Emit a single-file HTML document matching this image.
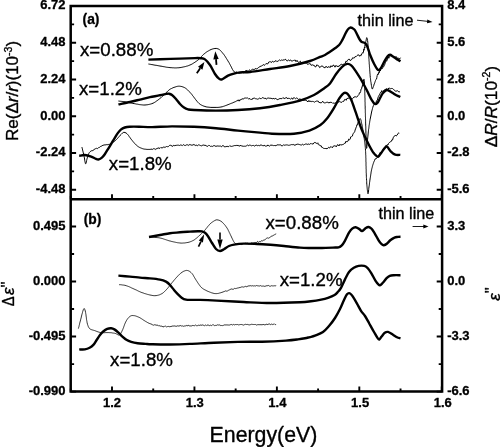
<!DOCTYPE html>
<html><head><meta charset="utf-8"><title>Figure</title>
<style>html,body{margin:0;padding:0;background:#fff}svg{display:block}</style></head>
<body><svg width="500" height="447" viewBox="0 0 500 447"><rect x="0" y="0" width="500" height="447" fill="#fff"/>
<g fill="none" stroke="#000" stroke-linejoin="round" stroke-linecap="butt">
<g stroke-width="1.0">
<path d="M148.4,64.0 L148.9,64.1 L149.6,64.2 L150.3,64.3 L151.2,64.5 L152.1,64.6 L153.1,64.8 L154.1,65.0 L155.1,65.2 L156.2,65.3 L157.2,65.5 L158.2,65.7 L159.1,65.9 L160.0,66.0 L161.0,66.2 L161.9,66.3 L162.8,66.5 L163.8,66.7 L164.7,66.8 L165.5,67.0 L166.4,67.2 L167.3,67.3 L168.2,67.4 L169.1,67.5 L170.0,67.6 L170.9,67.7 L171.8,67.7 L172.7,67.8 L173.6,67.8 L174.5,67.9 L175.5,67.9 L176.4,67.9 L177.3,67.8 L178.2,67.8 L179.1,67.7 L180.0,67.6 L180.9,67.5 L181.8,67.3 L182.8,67.1 L183.7,66.9 L184.7,66.7 L185.6,66.5 L186.5,66.2 L187.4,66.0 L188.3,65.7 L189.2,65.3 L190.0,65.0 L190.9,64.6 L191.8,64.2 L192.6,63.7 L193.4,63.2 L194.2,62.7 L195.0,62.2 L195.8,61.6 L196.6,61.1 L197.3,60.6 L198.0,60.0 L198.8,59.4 L199.5,58.7 L200.1,58.0 L200.8,57.3 L201.4,56.6 L202.1,55.9 L202.7,55.2 L203.3,54.6 L204.0,54.0 L204.8,53.4 L205.5,52.8 L206.3,52.2 L207.1,51.7 L207.8,51.2 L208.6,50.8 L209.3,50.4 L210.0,50.0 L211.1,49.5 L212.2,49.1 L213.2,48.8 L214.1,48.6 L215.0,48.5 L216.2,48.4 L217.1,48.6 L218.0,48.9 L218.8,49.2 L219.6,49.7 L220.5,50.6 L221.0,51.1 L221.5,51.7 L222.1,52.4 L222.7,53.1 L223.3,53.9 L224.0,54.7 L224.6,55.6 L225.1,56.3 L225.5,57.0 L226.0,57.8 L226.5,58.6 L227.0,59.4 L227.5,60.2 L228.0,61.0 L228.5,61.9 L229.0,62.6 L229.4,63.4 L229.9,64.3 L230.4,65.3 L230.9,66.2 L231.4,67.2 L231.8,68.0 L232.2,68.9 L232.6,69.6 L233.0,70.2 L233.7,71.3 L234.2,71.8 L235.0,72.2 L235.8,72.4 L236.6,72.0 L237.6,72.8 L238.8,73.3 L240.0,73.1 L240.8,73.0 L241.6,73.0 L242.4,71.8 L243.3,72.7 L244.3,72.2 L245.2,70.9 L246.2,70.6 L247.1,70.3 L248.0,71.5 L248.9,70.4 L249.7,69.9 L250.6,70.7 L251.4,70.0 L252.3,69.3 L253.2,69.3 L254.1,69.7 L255.0,68.8 L256.0,68.6 L256.8,69.1 L257.6,68.2 L258.4,67.6 L259.2,67.4 L260.0,66.2 L260.9,66.4 L261.7,66.0 L262.6,65.1 L263.5,64.5 L264.3,65.5 L265.2,64.4 L266.0,63.5 L266.9,63.8 L267.8,63.9 L268.7,62.1 L269.6,61.8 L270.5,61.8 L271.5,62.5 L272.4,61.2 L273.3,62.0 L274.2,61.7 L275.1,61.3 L276.0,60.5 L276.9,61.7 L277.8,61.2 L278.7,60.6 L279.6,59.9 L280.5,60.6 L281.5,60.0 L282.4,60.3 L283.3,59.8 L284.2,60.3 L285.1,59.2 L286.0,59.6 L286.9,60.9 L287.8,60.7 L288.8,59.8 L289.7,60.8 L290.7,59.9 L291.6,61.2 L292.5,60.9 L293.4,60.5 L294.3,60.3 L295.2,60.0 L296.0,61.7 L297.0,60.3 L297.9,61.9 L298.7,62.4 L299.6,61.9 L300.4,61.2 L301.3,63.2 L302.1,63.7 L303.0,63.3 L304.0,63.0 L304.8,62.9 L305.7,63.1 L306.6,62.9 L307.5,64.4 L308.4,64.1 L309.3,63.7 L310.3,63.7 L311.2,65.4 L312.2,64.7 L313.1,65.4 L314.0,65.1 L314.9,66.7 L315.8,66.9 L316.8,64.8 L317.7,65.4 L318.7,65.8 L319.6,67.6 L320.5,67.1 L321.4,66.0 L322.3,65.8 L323.2,67.0 L324.0,67.5 L325.1,67.8 L326.1,66.2 L327.1,67.6 L328.1,67.1 L329.1,66.5 L330.0,67.7 L331.0,65.7 L332.0,66.9 L333.0,65.2 L334.0,65.3 L335.0,67.2 L336.0,65.3 L337.0,66.6 L338.0,66.1 L339.0,66.5 L340.0,65.0 L340.8,64.6 L341.7,64.1 L342.5,65.1 L343.4,64.0 L344.2,64.4 L345.1,63.7 L345.9,61.2 L346.7,61.8 L347.5,60.2 L348.2,59.6 L349.2,59.1 L350.1,60.6 L351.0,59.9 L351.8,59.5 L352.7,57.7 L353.5,58.0 L354.4,57.9 L355.2,56.5 L356.1,56.7 L357.1,55.5 L358.0,54.8 L358.9,55.0 L359.7,56.3 L360.5,55.1 L361.1,55.6 L361.9,53.7 L362.5,52.6 L363.0,53.2 L363.4,52.4 L363.8,49.2 L364.1,50.2 L364.3,47.9 L364.6,47.0 L364.8,48.0 L365.0,44.8 L365.2,44.3 L365.4,45.3 L365.6,43.0 L365.8,41.4 L366.0,41.1 L366.2,39.8 L366.4,38.7 L366.5,37.9 L366.7,37.6 L366.9,37.8 L367.1,38.3 L367.4,39.2 L367.6,40.6 L367.8,42.4 L367.9,43.0 L367.9,43.7 L368.0,44.4 L368.0,45.2 L368.1,46.0 L368.2,46.9 L368.2,47.8 L368.3,48.8 L368.3,49.7 L368.4,50.7 L368.5,51.7 L368.5,52.7 L368.6,53.7 L368.6,54.7 L368.7,55.7 L368.8,56.7 L368.8,57.7 L368.9,58.6 L369.0,59.5 L369.0,60.4 L369.1,61.4 L369.2,62.3 L369.2,63.3 L369.3,64.3 L369.4,65.3 L369.4,66.3 L369.5,67.3 L369.6,68.3 L369.7,69.3 L369.7,70.2 L369.8,71.2 L369.9,72.1 L369.9,72.9 L370.0,73.8 L370.1,74.6 L370.1,75.3 L370.2,76.0 L370.3,77.5 L370.5,78.7 L370.6,79.8 L370.7,80.8 L370.8,81.6 L371.0,82.4 L371.1,83.2 L371.2,84.0 L371.4,85.3 L371.6,86.6 L371.8,87.7 L372.0,88.5 L372.2,89.0 L372.6,88.8 L372.9,87.8 L373.4,86.5 L373.7,85.8 L373.9,85.0 L374.2,84.1 L374.6,83.2 L374.9,82.3 L375.2,81.4 L375.5,80.5 L375.8,79.6 L376.1,79.4 L376.5,79.1 L376.8,77.7 L377.2,75.5 L377.6,74.1 L378.0,74.2 L378.4,74.4 L378.9,71.9 L379.4,72.5 L379.9,69.7 L380.4,70.9 L381.0,67.8 L381.6,67.8 L382.2,68.6 L382.8,67.6 L383.4,67.1 L383.9,66.2 L384.4,65.1 L384.9,64.2 L385.3,62.0 L385.7,61.9 L386.2,60.5 L386.6,61.2 L387.1,60.1 L387.7,58.1 L388.3,56.8 L388.8,58.3 L389.3,57.3 L390.4,55.5 L391.5,55.1 L392.1,56.2 L392.7,55.8 L393.4,56.4 L394.4,56.9 L395.3,57.0 L396.4,56.7 L397.6,58.6 L398.8,58.2 L399.8,58.8 L400.5,57.7"/>
<path d="M118.4,101.0 L119.0,101.1 L119.8,101.2 L120.7,101.3 L121.7,101.4 L122.8,101.5 L123.9,101.7 L125.0,101.8 L126.0,102.0 L126.9,102.2 L127.7,102.3 L128.6,102.5 L129.4,102.7 L130.3,102.9 L131.2,103.1 L132.1,103.2 L133.0,103.4 L134.0,103.6 L134.8,103.7 L135.7,103.9 L136.6,104.1 L137.6,104.2 L138.5,104.4 L139.5,104.6 L140.4,104.7 L141.4,104.8 L142.3,104.9 L143.2,105.0 L144.0,105.0 L145.0,105.0 L146.0,104.9 L146.9,104.8 L147.8,104.7 L148.7,104.5 L149.6,104.3 L150.4,104.1 L151.2,103.9 L152.0,103.6 L153.0,103.2 L153.9,102.8 L154.7,102.3 L155.5,101.8 L156.3,101.2 L157.2,100.6 L158.0,100.0 L158.8,99.4 L159.5,98.8 L160.3,98.2 L161.1,97.6 L161.8,96.9 L162.6,96.3 L163.3,95.6 L164.0,95.0 L164.8,94.3 L165.5,93.5 L166.2,92.7 L166.9,92.0 L167.6,91.3 L168.3,90.6 L169.0,90.0 L169.8,89.4 L170.6,88.9 L171.5,88.5 L172.3,88.1 L173.1,87.7 L174.0,87.4 L174.9,87.1 L175.8,86.8 L176.7,86.5 L177.6,86.3 L178.5,86.2 L179.5,86.2 L180.3,86.3 L181.2,86.4 L182.1,86.7 L182.9,86.9 L183.8,87.3 L184.7,87.7 L185.5,88.2 L186.2,88.7 L186.9,89.3 L187.6,89.9 L188.3,90.6 L189.0,91.3 L189.7,92.0 L190.3,92.8 L191.0,93.5 L191.6,94.2 L192.2,94.9 L192.7,95.7 L193.3,96.4 L193.9,97.2 L194.4,98.0 L195.0,98.7 L195.5,99.4 L196.0,100.0 L196.7,100.9 L197.3,101.6 L197.9,102.3 L198.6,103.0 L199.2,103.6 L200.0,104.2 L200.7,104.7 L201.5,105.1 L202.3,105.5 L203.2,105.9 L204.1,106.2 L205.0,106.5 L206.0,106.8 L206.9,107.0 L207.9,107.1 L208.9,107.2 L209.9,107.3 L210.9,107.4 L212.0,107.4 L213.0,107.4 L214.0,107.4 L215.0,107.4 L216.0,107.4 L216.9,107.4 L217.9,107.4 L218.9,107.3 L219.9,107.2 L220.9,107.0 L222.0,106.8 L222.8,106.6 L223.6,106.3 L224.5,106.0 L225.3,105.7 L226.2,105.4 L227.1,105.0 L228.0,104.7 L228.9,104.3 L229.7,104.0 L230.6,103.6 L231.4,103.3 L232.3,103.0 L233.1,102.6 L234.0,102.2 L234.8,101.9 L235.7,101.5 L236.5,101.0 L237.3,100.9 L238.2,99.8 L239.1,101.2 L240.0,99.5 L240.8,100.0 L241.6,99.4 L242.3,98.5 L243.0,99.4 L243.8,98.4 L244.6,98.1 L245.4,98.0 L246.4,98.1 L247.4,97.9 L248.6,98.9 L250.0,98.6 L250.7,99.5 L251.4,99.4 L252.2,99.5 L253.0,98.0 L253.8,98.4 L254.7,98.1 L255.5,98.7 L256.4,98.8 L257.4,99.2 L258.3,99.0 L259.3,98.1 L260.2,98.5 L261.2,98.7 L262.2,97.7 L263.2,97.8 L264.2,98.5 L265.2,98.0 L266.2,99.2 L267.2,98.3 L268.2,98.0 L269.2,98.2 L270.1,98.3 L271.1,98.2 L272.0,98.8 L272.9,98.7 L273.9,98.4 L274.8,99.0 L275.8,98.2 L276.8,99.5 L277.8,99.6 L278.8,99.1 L279.9,98.5 L280.9,98.6 L281.9,98.7 L282.9,97.6 L283.9,98.3 L284.9,98.5 L285.8,97.8 L286.8,97.6 L287.7,99.0 L288.6,98.1 L289.5,98.4 L290.3,99.2 L291.1,98.6 L291.9,97.9 L292.7,99.3 L293.4,98.1 L294.0,97.4 L295.5,98.9 L296.7,97.9 L297.7,98.5 L298.5,99.8 L299.2,99.7 L299.9,98.6 L300.5,99.7 L301.2,99.8 L302.0,100.2 L303.0,99.8 L304.0,100.7 L304.9,99.9 L305.9,100.4 L306.9,100.8 L307.9,102.0 L308.9,100.4 L310.0,101.9 L310.8,100.9 L311.7,101.7 L312.6,101.4 L313.5,101.6 L314.4,102.2 L315.3,101.6 L316.3,101.1 L317.2,101.1 L318.2,101.1 L319.1,102.7 L320.0,102.3 L320.9,103.0 L321.8,102.5 L322.7,101.2 L323.6,102.6 L324.5,102.9 L325.4,102.8 L326.3,102.4 L327.2,102.2 L328.1,102.4 L329.1,103.1 L330.0,102.0 L330.9,102.5 L331.8,102.4 L332.8,103.4 L333.7,103.0 L334.7,103.3 L335.6,103.0 L336.6,101.9 L337.5,101.7 L338.4,102.1 L339.3,101.6 L340.1,101.8 L340.8,102.2 L341.9,102.3 L342.9,101.3 L343.8,101.3 L344.7,99.4 L345.4,99.4 L346.2,100.3 L347.0,98.3 L348.1,98.5 L349.2,97.6 L350.2,97.5 L351.2,99.0 L352.2,99.0 L353.2,98.1 L354.1,96.9 L355.1,97.0 L355.9,96.6 L356.7,97.1 L357.5,96.5 L358.2,95.3 L358.9,94.6 L359.5,92.7 L359.9,92.8 L360.3,92.7 L360.7,91.4 L361.0,89.1 L361.4,89.0 L361.7,88.3 L362.0,86.5 L362.3,86.7 L362.5,84.8 L362.8,84.2 L363.0,82.8 L363.2,81.9 L363.4,81.2 L363.8,79.3 L364.1,79.3 L364.2,79.7 L364.2,80.3 L364.3,81.1 L364.4,82.0 L364.4,83.0 L364.5,84.2 L364.5,85.5 L364.6,87.0 L364.6,87.7 L364.7,88.4 L364.7,89.2 L364.7,90.0 L364.7,90.8 L364.8,91.7 L364.8,92.6 L364.8,93.5 L364.8,94.4 L364.9,95.4 L364.9,96.4 L364.9,97.4 L365.0,98.4 L365.0,99.4 L365.0,100.5 L365.0,101.5 L365.1,102.5 L365.1,103.6 L365.1,104.4 L365.1,105.3 L365.2,106.1 L365.2,107.0 L365.2,107.9 L365.2,108.8 L365.3,109.7 L365.3,110.6 L365.3,111.6 L365.3,112.5 L365.4,113.5 L365.4,114.4 L365.4,115.4 L365.4,116.3 L365.5,117.3 L365.5,118.3 L365.5,119.2 L365.6,120.2 L365.6,121.2 L365.6,122.1 L365.6,123.1 L365.7,124.0 L365.7,125.0 L365.7,125.9 L365.8,126.8 L365.8,127.8 L365.8,128.8 L365.8,129.9 L365.9,130.9 L365.9,132.0 L365.9,133.1 L366.0,134.1 L366.0,135.2 L366.0,136.3 L366.1,137.3 L366.1,138.4 L366.1,139.4 L366.2,140.4 L366.2,141.3 L366.2,142.3 L366.3,143.1 L366.3,143.9 L366.3,144.7 L366.4,145.4 L366.4,146.0 L366.4,146.6 L366.5,147.1 L366.5,147.5 L366.6,148.4 L366.8,148.0 L366.9,146.6 L367.0,144.7 L367.2,143.0 L367.3,142.3 L367.4,141.6 L367.4,140.8 L367.5,139.9 L367.6,139.0 L367.7,138.0 L367.8,137.1 L367.9,136.1 L368.0,135.0 L368.1,134.0 L368.2,133.0 L368.3,132.0 L368.4,131.1 L368.5,130.2 L368.6,129.3 L368.8,128.4 L368.9,127.5 L369.0,126.5 L369.1,125.6 L369.3,124.6 L369.4,123.7 L369.6,122.7 L369.7,121.8 L369.9,120.8 L370.0,119.9 L370.2,119.0 L370.4,118.0 L370.6,117.0 L370.8,116.0 L371.0,115.0 L371.2,114.0 L371.4,113.0 L371.6,112.0 L371.8,111.0 L372.1,110.1 L372.3,109.2 L372.5,108.4 L372.7,107.7 L372.9,107.0 L373.4,105.6 L373.9,104.7 L374.4,103.8 L375.0,102.8 L375.5,103.4 L376.0,102.7 L376.5,100.7 L376.9,100.4 L377.4,100.3 L377.9,98.0 L378.4,96.5 L378.8,95.9 L379.3,94.8 L379.7,95.0 L380.1,93.3 L380.5,92.4 L381.0,92.7 L381.8,90.6 L382.6,91.5 L383.5,90.7 L384.4,89.8 L385.3,90.3 L386.1,88.6 L387.0,89.4 L388.0,89.2 L388.9,88.0 L389.8,88.3 L390.8,88.9 L391.7,88.4 L392.6,88.6 L393.5,89.4 L394.3,90.2 L395.1,90.5 L396.0,91.6 L397.1,90.4 L398.2,91.6 L399.3,91.9 L400.0,91.4"/>
<path d="M81.9,147.0 L82.0,147.5 L82.2,148.2 L82.4,149.0 L82.6,149.9 L82.8,150.9 L83.1,151.9 L83.3,152.9 L83.6,154.0 L83.8,154.9 L84.0,155.8 L84.2,156.8 L84.4,157.9 L84.6,159.0 L84.7,160.2 L84.9,161.2 L85.1,162.2 L85.3,163.0 L85.4,163.5 L85.6,163.8 L85.9,163.7 L86.1,162.9 L86.4,161.9 L86.6,160.6 L86.9,159.3 L87.2,158.2 L87.5,157.2 L87.8,156.2 L88.1,155.2 L88.5,154.2 L88.9,153.3 L89.3,152.6 L90.0,151.8 L90.8,151.2 L91.7,150.7 L92.8,150.6 L93.6,150.2 L94.5,149.0 L95.5,148.7 L96.5,148.3 L97.4,148.7 L98.4,147.7 L99.3,147.5 L100.3,146.6 L101.2,146.3 L102.1,145.7 L103.1,145.2 L104.0,145.1 L104.9,144.8 L105.9,144.9 L106.8,144.6 L107.8,144.7 L108.7,144.4 L109.6,144.3 L110.6,143.6 L111.6,142.7 L112.6,142.5 L113.5,142.0 L114.4,141.4 L115.1,140.8 L115.8,140.2 L116.5,139.5 L117.2,138.8 L117.8,138.1 L118.4,137.4 L119.1,136.6 L119.8,135.9 L120.4,135.1 L121.0,134.5 L121.6,133.9 L122.4,133.1 L123.2,132.5 L124.0,132.3 L125.0,132.5 L126.1,133.0 L127.2,133.9 L127.8,134.6 L128.5,135.4 L129.1,136.4 L129.8,137.3 L130.4,138.2 L131.0,139.0 L131.6,139.8 L132.3,140.6 L132.9,141.4 L133.6,142.2 L134.2,142.9 L134.8,143.6 L135.5,144.3 L136.2,145.0 L136.9,145.6 L137.6,146.2 L138.5,146.8 L139.5,147.4 L140.4,147.8 L141.4,148.2 L142.4,148.6 L143.4,148.9 L144.3,149.1 L145.3,149.2 L146.2,149.3 L147.2,149.4 L148.1,149.4 L148.9,149.4 L149.8,149.4 L150.8,149.3 L152.0,149.1 L152.7,149.4 L153.5,148.7 L154.3,148.7 L155.2,149.5 L156.1,148.8 L157.1,148.7 L158.0,147.8 L159.0,148.2 L160.0,148.3 L161.0,147.3 L161.8,148.0 L162.6,147.9 L163.4,146.9 L164.1,147.5 L164.9,147.0 L165.7,147.1 L166.5,146.5 L167.4,146.7 L168.4,146.6 L169.5,145.4 L170.7,145.3 L172.0,146.0 L172.7,146.4 L173.4,145.3 L174.2,145.6 L175.0,145.7 L175.9,145.3 L176.7,145.3 L177.6,145.2 L178.5,145.2 L179.4,145.5 L180.4,145.0 L181.3,145.1 L182.3,145.6 L183.3,144.6 L184.3,145.3 L185.3,145.5 L186.3,144.9 L187.3,144.7 L188.2,145.5 L189.2,144.7 L190.2,144.7 L191.2,145.0 L192.1,145.4 L193.1,144.5 L194.0,144.9 L194.9,144.9 L195.8,145.6 L196.8,145.1 L197.7,145.7 L198.6,144.8 L199.5,145.1 L200.4,145.5 L201.3,145.9 L202.2,145.4 L203.2,145.1 L204.1,145.0 L205.0,145.7 L205.9,145.3 L206.8,146.2 L207.8,146.3 L208.7,145.4 L209.6,145.6 L210.5,146.4 L211.4,146.2 L212.3,146.5 L213.2,145.9 L214.2,145.6 L215.1,145.9 L216.0,146.6 L216.9,145.9 L217.8,146.0 L218.8,146.1 L219.7,146.1 L220.6,146.1 L221.5,146.8 L222.4,145.7 L223.3,145.5 L224.2,146.8 L225.2,146.7 L226.1,146.8 L227.0,146.0 L227.9,146.7 L228.8,146.6 L229.8,145.6 L230.7,146.3 L231.6,146.4 L232.5,146.2 L233.4,145.9 L234.3,145.6 L235.2,145.6 L236.2,145.5 L237.1,145.2 L238.0,145.9 L238.9,145.5 L239.9,146.2 L240.8,145.1 L241.8,146.3 L242.8,146.0 L243.7,146.3 L244.7,146.2 L245.7,146.2 L246.7,145.7 L247.7,144.9 L248.7,145.9 L249.6,145.1 L250.6,145.3 L251.5,145.8 L252.5,145.5 L253.4,145.4 L254.3,146.1 L255.2,145.6 L256.1,145.2 L256.9,145.1 L257.7,145.9 L258.5,145.4 L259.3,145.8 L260.0,145.2 L261.2,145.0 L262.3,145.5 L263.2,145.9 L264.1,145.0 L264.9,145.9 L265.6,146.1 L266.4,146.0 L267.1,146.0 L267.9,144.9 L268.8,145.8 L269.7,146.1 L270.8,145.0 L272.0,145.3 L272.7,145.3 L273.5,145.6 L274.3,145.5 L275.1,145.5 L276.0,145.9 L276.9,144.8 L277.8,144.9 L278.8,144.9 L279.7,144.9 L280.7,144.8 L281.7,146.0 L282.6,145.8 L283.6,144.7 L284.6,145.3 L285.6,145.0 L286.6,144.9 L287.6,145.0 L288.6,145.3 L289.5,145.2 L290.5,144.9 L291.4,144.6 L292.3,144.7 L293.2,144.4 L294.0,145.0 L295.0,145.2 L296.1,144.6 L297.2,144.2 L298.2,144.2 L299.3,144.5 L300.3,144.8 L301.3,145.1 L302.3,144.2 L303.3,145.0 L304.3,144.6 L305.3,144.1 L306.2,144.0 L307.1,144.2 L307.9,144.5 L308.8,143.9 L309.5,144.4 L310.3,143.8 L311.0,143.3 L311.6,143.9 L313.2,144.0 L314.4,142.4 L315.2,142.8 L315.9,142.6 L316.5,143.4 L317.1,143.6 L317.8,142.8 L318.4,144.6 L318.9,145.1 L319.6,144.9 L320.4,145.9 L321.1,145.7 L321.9,147.5 L322.8,147.6 L323.7,148.4 L324.7,148.5 L325.8,148.5 L327.0,148.7 L327.8,148.3 L328.6,147.3 L329.5,148.1 L330.4,146.8 L331.4,146.8 L332.4,147.8 L333.3,146.1 L334.3,145.9 L335.3,145.7 L336.2,146.9 L337.1,145.2 L338.0,144.6 L339.0,146.0 L339.9,144.2 L340.9,145.3 L341.8,144.6 L342.7,144.6 L343.5,144.4 L344.4,143.3 L345.2,143.3 L346.0,141.2 L346.8,142.1 L347.5,141.1 L348.2,140.9 L348.8,139.0 L349.5,139.7 L350.1,139.3 L350.7,136.9 L351.3,136.7 L351.8,136.4 L352.4,136.1 L352.9,134.2 L353.4,133.3 L353.9,132.6 L354.3,132.4 L354.7,131.7 L355.1,130.1 L355.5,129.0 L355.9,128.1 L356.2,127.1 L356.6,126.3 L356.9,124.7 L357.2,124.7 L357.5,124.9 L358.0,122.5 L358.5,121.9 L358.9,119.5 L359.3,119.7 L359.7,119.2 L360.1,118.5 L360.4,118.8 L360.7,119.4 L361.0,120.2 L361.2,121.3 L361.5,122.5 L361.7,123.7 L362.0,125.0 L362.2,125.7 L362.3,126.5 L362.5,127.4 L362.6,128.2 L362.8,129.1 L362.9,130.0 L363.1,131.0 L363.2,131.9 L363.4,132.9 L363.5,133.9 L363.7,135.0 L363.8,136.0 L363.9,136.8 L364.0,137.6 L364.2,138.4 L364.3,139.1 L364.4,139.9 L364.5,140.7 L364.6,141.5 L364.8,142.3 L364.9,143.2 L365.0,144.1 L365.1,145.1 L365.2,146.2 L365.3,147.4 L365.4,148.6 L365.5,150.0 L365.5,150.7 L365.6,151.4 L365.6,152.2 L365.7,153.0 L365.7,153.8 L365.7,154.7 L365.8,155.6 L365.8,156.5 L365.8,157.5 L365.9,158.4 L365.9,159.4 L365.9,160.4 L365.9,161.4 L366.0,162.4 L366.0,163.4 L366.0,164.5 L366.0,165.5 L366.1,166.5 L366.1,167.5 L366.1,168.5 L366.2,169.5 L366.2,170.5 L366.2,171.5 L366.2,172.4 L366.3,173.3 L366.3,174.2 L366.3,175.1 L366.4,176.0 L366.4,176.8 L366.4,177.6 L366.5,178.3 L366.5,179.0 L366.6,180.3 L366.7,181.7 L366.7,182.9 L366.8,184.2 L366.9,185.3 L367.0,186.5 L367.1,187.5 L367.2,188.5 L367.3,189.5 L367.4,190.3 L367.5,191.1 L367.6,191.8 L367.7,192.4 L367.7,192.9 L367.8,193.3 L367.9,193.6 L368.1,193.8 L368.2,193.3 L368.4,192.3 L368.5,191.0 L368.7,189.6 L368.8,188.2 L369.0,187.0 L369.1,186.1 L369.3,185.2 L369.4,184.2 L369.5,183.2 L369.6,182.3 L369.8,181.2 L369.9,180.1 L370.1,179.0 L370.2,178.1 L370.4,177.2 L370.5,176.2 L370.7,175.2 L370.8,174.2 L371.0,173.2 L371.1,172.2 L371.3,171.2 L371.5,170.2 L371.7,169.3 L371.9,168.4 L372.2,167.4 L372.4,166.4 L372.7,165.4 L373.0,164.4 L373.3,163.5 L373.6,162.6 L373.9,161.8 L374.3,161.0 L374.6,160.3 L375.2,158.8 L375.9,159.0 L376.6,158.0 L377.4,157.2 L378.1,156.6 L378.6,155.4 L379.2,154.3 L379.7,153.3 L380.3,152.2 L380.8,153.0 L381.4,152.4 L382.0,151.1 L382.6,150.8 L383.3,149.2 L383.9,148.3 L384.6,147.8 L385.2,148.3 L385.9,145.6 L386.5,146.0 L387.2,144.6 L387.9,145.1 L388.6,143.4 L389.3,142.6 L390.0,142.1 L390.7,141.6 L391.3,141.4 L392.0,139.6 L392.6,139.9 L393.3,137.3 L393.9,136.9 L394.6,135.8 L395.2,135.2 L396.1,136.0 L397.1,135.2 L398.0,133.4 L398.7,133.0 L399.3,133.2"/>
<path stroke-width="0.8" d="M149.0,237.0 L149.5,237.0 L150.2,237.1 L151.0,237.1 L151.9,237.2 L152.9,237.2 L153.9,237.3 L154.9,237.4 L156.0,237.5 L157.1,237.6 L158.1,237.7 L159.1,237.8 L160.0,238.0 L160.9,238.2 L161.9,238.4 L162.8,238.7 L163.7,239.0 L164.6,239.3 L165.5,239.6 L166.4,239.9 L167.3,240.2 L168.2,240.5 L169.1,240.8 L170.0,241.0 L170.9,241.2 L171.8,241.5 L172.8,241.7 L173.7,241.9 L174.7,242.1 L175.6,242.3 L176.5,242.5 L177.4,242.7 L178.3,242.8 L179.2,242.9 L180.0,243.0 L181.1,243.1 L182.2,243.1 L183.2,243.0 L184.2,243.0 L185.2,242.9 L186.2,242.7 L187.1,242.6 L188.0,242.4 L189.0,242.2 L189.9,241.9 L190.7,241.6 L191.5,241.3 L192.3,240.9 L193.2,240.5 L194.0,240.0 L194.8,239.5 L195.5,238.9 L196.3,238.3 L197.1,237.7 L197.8,237.0 L198.6,236.3 L199.3,235.6 L200.0,235.0 L200.8,234.3 L201.5,233.6 L202.2,232.9 L202.9,232.2 L203.6,231.5 L204.3,230.8 L205.0,230.0 L205.6,229.3 L206.2,228.5 L206.9,227.7 L207.5,226.9 L208.1,226.1 L208.8,225.4 L209.4,224.6 L210.0,224.0 L210.9,223.2 L211.7,222.5 L212.6,221.9 L213.5,221.3 L214.3,220.8 L215.0,220.4 L216.1,219.9 L217.0,219.8 L218.0,220.0 L218.9,220.2 L219.9,220.6 L220.9,221.2 L222.0,222.0 L222.6,222.5 L223.2,223.2 L223.8,223.9 L224.5,224.6 L225.2,225.4 L225.8,226.3 L226.4,227.1 L227.0,228.0 L227.5,228.8 L228.0,229.7 L228.4,230.6 L228.9,231.5 L229.3,232.5 L229.8,233.4 L230.2,234.3 L230.6,235.2 L231.0,236.0 L231.5,237.0 L231.9,238.0 L232.4,238.9 L232.8,239.8 L233.2,240.6 L233.6,241.4 L234.0,242.0 L234.6,242.8 L235.2,243.4 L235.9,243.8 L237.0,244.6 L237.8,243.6 L238.6,244.1 L239.6,244.4 L240.6,243.9 L241.7,244.5 L242.8,243.8 L243.9,243.4 L245.0,243.5 L245.9,243.0 L246.8,243.4 L247.7,243.2 L248.6,243.9 L249.5,243.8 L250.5,243.4 L251.4,242.8 L252.4,242.9 L253.4,242.8 L254.4,242.5 L255.2,242.4 L256.1,242.9 L257.0,241.8 L257.8,241.5 L258.7,242.3 L259.6,241.5 L260.5,241.8 L261.4,240.7 L262.3,241.0 L263.2,240.3 L264.1,240.1 L265.0,239.7 L265.8,239.0 L266.7,238.2 L267.6,237.9 L268.5,238.2 L269.4,237.7 L270.3,237.3 L271.3,236.1 L272.2,236.0 L273.0,235.7 L273.8,235.1 L274.5,234.9 L275.2,234.2 L275.7,234.0 L276.2,233.8"/>
<path stroke-width="0.8" d="M119.0,284.6 L119.6,284.7 L120.5,284.7 L121.5,284.8 L122.6,285.0 L123.7,285.1 L124.9,285.3 L126.0,285.6 L126.8,285.9 L127.7,286.2 L128.6,286.5 L129.5,286.9 L130.4,287.3 L131.3,287.8 L132.2,288.2 L133.1,288.6 L134.0,289.0 L134.9,289.4 L135.8,289.8 L136.7,290.2 L137.6,290.7 L138.4,291.1 L139.3,291.5 L140.2,291.9 L141.1,292.3 L142.0,292.6 L142.9,292.9 L143.8,293.2 L144.7,293.6 L145.7,293.8 L146.6,294.1 L147.5,294.4 L148.4,294.6 L149.2,294.8 L150.0,295.0 L151.1,295.2 L152.1,295.4 L153.1,295.6 L154.1,295.7 L155.0,295.7 L156.0,295.6 L156.9,295.5 L157.7,295.3 L158.6,295.1 L159.5,294.8 L160.4,294.4 L161.2,294.0 L162.0,293.6 L162.8,293.1 L163.5,292.5 L164.3,291.8 L165.0,291.1 L165.7,290.4 L166.3,289.7 L167.0,289.0 L167.6,288.3 L168.2,287.6 L168.7,286.9 L169.3,286.2 L169.8,285.5 L170.4,284.8 L171.0,284.0 L171.6,283.3 L172.2,282.5 L172.8,281.8 L173.4,281.0 L174.1,280.2 L174.7,279.5 L175.4,278.7 L176.0,278.0 L176.7,277.2 L177.4,276.4 L178.2,275.7 L178.9,274.9 L179.6,274.2 L180.3,273.6 L181.0,273.0 L182.0,272.3 L182.9,271.7 L183.8,271.2 L184.7,270.9 L185.5,270.6 L186.6,270.4 L187.5,270.5 L188.5,270.8 L189.3,271.2 L190.2,271.8 L191.1,272.6 L192.0,273.5 L192.5,274.1 L193.0,274.9 L193.5,275.7 L193.9,276.5 L194.4,277.3 L194.9,278.2 L195.4,279.0 L195.9,279.8 L196.4,280.6 L197.0,281.5 L197.5,282.3 L198.0,283.1 L198.5,283.8 L199.0,284.5 L199.6,285.3 L200.1,286.0 L200.6,286.7 L201.2,287.3 L202.0,288.0 L202.7,288.5 L203.4,289.0 L204.2,289.5 L205.1,289.9 L206.0,290.4 L206.9,290.9 L207.9,291.3 L208.8,291.7 L209.6,292.0 L210.4,292.3 L211.3,292.7 L212.1,292.9 L213.0,293.2 L213.9,293.4 L214.8,293.6 L215.8,293.6 L216.8,293.6 L217.6,293.5 L218.4,293.4 L219.3,293.1 L220.2,292.9 L221.1,292.6 L222.0,292.3 L223.0,292.0 L223.9,291.6 L224.8,291.3 L225.8,290.8 L226.7,291.2 L227.6,290.9 L228.5,290.3 L229.4,289.9 L230.2,289.5 L231.1,289.0 L231.9,289.0 L232.8,289.3 L233.7,289.1 L234.5,288.4 L235.4,288.6 L236.4,288.4 L237.3,288.1 L238.3,287.9 L239.1,287.8 L240.0,287.3 L240.8,287.4 L241.7,286.9 L242.6,286.9 L243.5,287.1 L244.4,286.8 L245.3,286.3 L246.2,286.8 L247.1,286.4 L248.1,286.2 L249.0,285.6 L249.9,286.0 L250.8,285.6 L251.7,286.0 L252.7,285.7 L253.6,286.0 L254.6,285.8 L255.6,286.0 L256.6,285.5 L257.6,285.8 L258.5,285.9 L259.5,286.0 L260.5,285.6 L261.4,286.1 L262.4,286.1 L263.3,286.0 L264.2,286.3 L265.1,286.3 L266.1,285.8 L267.2,285.8 L268.3,285.4 L269.4,286.1 L270.5,286.2 L271.5,285.7 L272.5,285.9 L273.4,285.9 L274.3,285.9 L275.0,285.3 L275.7,285.9 L276.2,285.7"/>
<path stroke-width="0.8" d="M78.4,328.6 L78.5,328.0 L78.7,327.3 L79.0,326.4 L79.2,325.4 L79.5,324.3 L79.7,323.2 L80.0,322.1 L80.3,321.0 L80.6,319.9 L80.8,319.0 L81.1,318.0 L81.3,317.0 L81.5,316.0 L81.8,315.0 L82.0,314.1 L82.3,313.2 L82.5,312.4 L82.7,311.6 L82.9,311.0 L83.4,309.5 L83.9,308.7 L84.3,308.6 L84.6,309.0 L84.9,309.8 L85.3,311.0 L85.6,312.6 L85.7,313.3 L85.9,314.2 L86.0,315.1 L86.1,316.1 L86.3,317.2 L86.4,318.2 L86.5,319.3 L86.7,320.3 L86.9,321.3 L87.0,322.2 L87.2,323.0 L87.5,324.3 L87.9,325.4 L88.2,326.3 L88.6,327.2 L89.1,327.9 L89.6,328.6 L90.4,329.2 L91.3,329.6 L92.2,329.9 L93.3,330.2 L94.4,330.5 L95.2,330.8 L96.1,331.1 L96.9,331.5 L97.9,331.8 L98.8,332.1 L99.8,332.4 L100.8,332.6 L101.7,332.7 L102.7,332.7 L103.8,332.7 L104.8,332.7 L105.8,332.6 L106.9,332.6 L107.9,332.6 L108.8,332.6 L109.8,332.7 L110.8,332.7 L111.8,332.8 L112.7,333.0 L113.6,333.1 L114.4,333.2 L115.2,333.4 L116.4,333.9 L117.4,334.5 L118.3,335.0 L119.2,335.0 L119.8,334.6 L120.3,334.0 L120.9,333.2 L121.4,332.3 L121.9,331.3 L122.4,330.2 L122.8,329.4 L123.1,328.6 L123.5,327.7 L123.8,326.7 L124.2,325.7 L124.5,324.7 L124.9,323.8 L125.2,323.0 L125.6,322.2 L126.1,321.2 L126.6,320.3 L127.2,319.4 L127.7,318.7 L128.2,318.0 L128.8,317.4 L129.7,316.6 L130.6,316.0 L131.6,315.6 L132.8,315.5 L133.6,315.6 L134.5,315.7 L135.4,315.9 L136.3,316.2 L137.3,316.6 L138.3,317.0 L139.2,317.4 L140.0,317.8 L140.8,318.3 L141.6,318.8 L142.4,319.3 L143.2,319.9 L144.0,320.4 L144.8,320.9 L145.6,321.4 L146.5,321.9 L147.3,322.4 L148.0,322.8 L148.9,323.2 L149.8,323.6 L150.8,323.9 L152.0,324.4 L152.7,324.9 L153.5,325.2 L154.3,324.8 L155.1,324.7 L156.0,325.3 L156.9,325.1 L157.9,325.2 L158.8,326.1 L159.8,325.6 L160.8,326.3 L161.9,326.1 L162.9,326.8 L164.0,326.8 L164.8,326.0 L165.7,326.2 L166.5,326.9 L167.4,326.6 L168.3,326.4 L169.2,326.7 L170.1,326.7 L171.0,326.4 L172.0,326.3 L172.9,325.9 L173.9,326.1 L174.9,325.9 L175.9,326.3 L176.9,326.2 L177.9,325.7 L178.9,326.2 L180.0,325.6 L180.8,325.6 L181.7,326.1 L182.5,325.9 L183.4,326.3 L184.3,326.0 L185.3,326.0 L186.2,325.4 L187.1,326.0 L188.1,325.2 L189.0,325.7 L189.9,326.0 L190.9,325.9 L191.8,325.9 L192.8,325.4 L193.7,325.6 L194.7,325.7 L195.6,325.0 L196.5,325.7 L197.4,325.7 L198.3,325.2 L199.2,325.5 L200.0,325.1 L201.0,325.0 L202.0,325.4 L202.9,324.7 L203.8,325.5 L204.6,325.7 L205.5,325.0 L206.3,325.6 L207.1,324.8 L208.0,325.6 L208.8,325.0 L209.7,325.7 L210.6,325.2 L211.5,325.7 L212.4,324.8 L213.5,324.9 L214.5,325.6 L215.6,325.4 L216.8,325.3 L217.6,324.8 L218.3,325.0 L219.1,325.1 L219.9,324.8 L220.8,325.7 L221.6,325.5 L222.5,325.6 L223.3,325.4 L224.2,325.0 L225.1,324.7 L226.0,325.3 L226.9,324.7 L227.9,325.1 L228.8,325.0 L229.8,325.0 L230.7,324.6 L231.7,324.5 L232.7,325.0 L233.6,324.4 L234.6,324.9 L235.6,324.5 L236.6,324.6 L237.6,324.5 L238.6,324.9 L239.6,324.7 L240.6,324.5 L241.7,324.5 L242.7,324.8 L243.7,325.1 L244.6,324.6 L245.5,324.3 L246.4,324.5 L247.3,324.4 L248.3,324.7 L249.3,324.9 L250.3,324.7 L251.4,324.3 L252.4,324.4 L253.5,324.5 L254.5,324.5 L255.6,324.5 L256.7,325.1 L257.8,324.6 L258.9,324.7 L259.9,324.7 L261.0,324.7 L262.1,324.8 L263.1,324.4 L264.1,324.7 L265.1,325.0 L266.1,324.1 L267.1,324.6 L268.1,324.3 L269.0,324.0 L269.9,324.0 L270.7,324.7 L271.5,324.1 L272.3,324.6 L273.0,324.0 L273.7,324.3 L274.4,323.9 L275.0,324.5 L275.5,324.7 L276.0,324.1"/>
</g>
<g stroke-width="2.4">
<path d="M148.4,59.6 C150.3,59.5 154.7,59.4 160.0,59.2 C165.3,59.0 174.2,58.8 180.0,58.6 C185.8,58.4 191.5,58.2 195.0,58.1 C198.5,58.0 199.3,58.0 201.0,58.2 C202.7,58.4 203.5,58.3 205.0,59.4 C206.5,60.5 208.3,62.6 210.0,65.0 C211.7,67.4 213.5,71.7 215.0,74.0 C216.5,76.3 217.8,77.7 219.0,78.6 C220.2,79.5 220.5,79.9 222.0,79.4 C223.5,78.9 226.0,76.6 228.0,75.6 C230.0,74.6 232.0,74.1 234.0,73.6 C236.0,73.1 237.3,72.7 240.0,72.4 C242.7,72.1 245.0,72.6 250.0,72.0 C255.0,71.4 263.3,70.0 270.0,69.0 C276.7,68.0 283.3,67.3 290.0,66.0 C296.7,64.7 305.0,62.5 310.0,61.0 C315.0,59.5 317.5,57.9 320.0,56.9 C322.5,55.9 323.3,55.9 325.0,55.0 C326.7,54.1 328.3,52.9 330.0,51.8 C331.7,50.7 333.5,49.4 335.0,48.3 C336.5,47.2 337.9,46.3 339.1,45.0 C340.3,43.7 341.1,42.2 342.1,40.4 C343.1,38.6 344.3,35.8 345.2,34.0 C346.1,32.2 346.9,30.7 347.7,29.6 C348.5,28.5 349.4,27.9 350.2,27.6 C350.9,27.3 351.4,27.6 352.2,28.0 C352.9,28.4 353.9,28.8 354.7,29.9 C355.5,31.0 356.4,33.0 357.2,34.6 C358.0,36.2 358.9,38.3 359.7,39.5 C360.5,40.7 361.0,41.5 361.8,42.0 C362.6,42.5 363.6,42.3 364.3,42.7 C365.1,43.1 365.6,43.3 366.3,44.4 C367.0,45.5 367.6,47.6 368.3,49.4 C369.0,51.2 369.3,52.8 370.3,55.3 C371.3,57.8 373.1,62.0 374.3,64.3 C375.5,66.6 376.5,68.2 377.3,69.2 C378.1,70.2 378.3,70.3 379.0,70.0 C379.7,69.7 380.5,68.8 381.4,67.3 C382.3,65.8 383.4,63.1 384.4,61.3 C385.4,59.5 386.5,57.6 387.4,56.5 C388.3,55.4 389.0,54.8 390.0,54.8 C391.0,54.8 392.1,56.0 393.4,56.8 C394.6,57.6 396.3,58.9 397.5,59.6 C398.7,60.4 400.0,61.0 400.5,61.3"/>
<path d="M118.4,104.4 C120.3,104.0 126.4,102.8 130.0,102.0 C133.6,101.2 136.7,100.4 140.0,99.6 C143.3,98.8 146.7,97.9 150.0,97.2 C153.3,96.5 157.3,95.8 160.0,95.2 C162.7,94.7 164.5,94.2 166.0,93.9 C167.5,93.7 168.0,93.5 169.0,93.7 C170.0,93.9 170.8,94.1 172.0,95.0 C173.2,95.9 174.7,97.5 176.0,99.0 C177.3,100.5 178.7,102.6 180.0,104.0 C181.3,105.4 182.7,106.7 184.0,107.6 C185.3,108.5 186.3,109.0 188.0,109.4 C189.7,109.8 189.3,109.8 194.0,110.0 C198.7,110.2 208.7,110.6 216.0,110.6 C223.3,110.6 230.7,110.4 238.0,110.0 C245.3,109.6 253.0,109.0 260.0,108.2 C267.0,107.4 273.3,106.3 280.0,105.0 C286.7,103.7 294.3,102.3 300.0,100.6 C305.7,98.9 310.0,97.0 314.0,95.0 C318.0,93.0 321.3,90.3 324.0,88.4 C326.7,86.5 328.0,85.8 330.0,83.4 C332.0,81.0 334.1,76.8 336.1,74.0 C338.1,71.2 340.2,68.5 342.1,66.8 C344.0,65.1 345.7,64.2 347.2,63.9 C348.7,63.6 349.9,64.2 351.2,65.3 C352.5,66.4 353.7,68.2 355.2,70.4 C356.7,72.6 358.6,75.6 360.2,78.2 C361.8,80.8 363.4,83.9 364.6,86.0 C365.8,88.1 366.0,88.7 367.2,91.0 C368.4,93.3 370.4,97.8 371.7,100.0 C373.0,102.2 373.8,103.6 374.8,104.0 C375.8,104.4 376.7,103.6 377.6,102.6 C378.5,101.6 379.2,99.7 380.0,98.2 C380.8,96.7 381.7,94.9 382.5,93.7 C383.3,92.5 384.0,91.8 384.8,91.2 C385.6,90.6 386.1,89.7 387.4,90.0 C388.7,90.3 390.9,91.9 392.4,92.8 C393.9,93.7 395.1,94.6 396.4,95.3 C397.7,96.0 399.6,96.7 400.3,97.0"/>
<path d="M79.2,155.8 C80.1,155.7 82.8,154.9 84.8,155.0 C86.8,155.1 89.5,156.0 91.2,156.6 C92.9,157.2 94.0,158.0 95.2,158.5 C96.4,159.0 97.3,159.6 98.4,159.5 C99.5,159.4 100.5,158.8 101.6,157.9 C102.7,157.0 103.6,155.9 104.8,154.2 C106.0,152.5 107.3,150.2 108.8,147.8 C110.3,145.4 112.1,142.2 113.6,139.8 C115.1,137.4 116.4,135.1 117.6,133.4 C118.8,131.7 119.6,130.7 120.8,129.7 C122.0,128.7 123.3,128.0 124.8,127.5 C126.3,127.0 127.2,126.8 129.6,126.7 C132.0,126.6 135.5,126.6 139.2,126.7 C142.9,126.8 146.5,127.1 152.0,127.1 C157.5,127.0 165.0,126.5 172.0,126.4 C179.0,126.4 186.7,126.5 194.0,126.8 C201.3,127.1 208.7,127.6 216.0,128.2 C223.3,128.8 230.7,129.9 238.0,130.6 C245.3,131.3 254.3,132.1 260.0,132.6 C265.7,133.1 266.3,133.5 272.0,133.7 C277.7,133.9 287.8,134.2 294.0,133.7 C300.2,133.2 305.0,132.0 309.4,130.6 C313.8,129.2 317.5,127.1 320.4,125.1 C323.3,123.1 324.8,121.2 327.0,118.5 C329.2,115.8 331.6,111.9 333.6,108.6 C335.6,105.3 337.6,101.1 339.1,98.7 C340.6,96.3 341.4,95.3 342.4,94.3 C343.4,93.3 344.1,92.8 345.0,92.8 C345.9,92.8 346.9,93.1 347.9,94.3 C348.9,95.5 349.9,96.9 351.2,99.8 C352.5,102.7 354.1,107.7 355.6,111.9 C357.1,116.1 358.6,121.2 360.0,125.1 C361.4,129.0 362.6,131.8 364.2,135.3 C365.8,138.8 367.9,143.0 369.5,146.0 C371.1,149.0 372.3,151.3 373.7,153.1 C375.1,154.9 376.8,156.8 378.1,156.7 C379.4,156.5 380.3,153.9 381.7,152.2 C383.1,150.5 385.0,146.7 386.5,146.5 C388.0,146.3 389.2,150.0 390.7,151.3 C392.1,152.7 393.6,154.0 395.2,154.6 C396.8,155.2 399.4,154.8 400.3,154.9"/>
<path d="M149.0,237.0 C150.8,236.7 156.5,235.6 160.0,235.0 C163.5,234.4 166.7,233.6 170.0,233.2 C173.3,232.8 176.7,232.6 180.0,232.3 C183.3,232.0 187.0,231.8 190.0,231.6 C193.0,231.4 196.0,231.2 198.0,231.2 C200.0,231.2 200.8,231.1 202.0,231.4 C203.2,231.7 204.0,232.0 205.0,232.8 C206.0,233.6 206.8,234.5 208.0,236.2 C209.2,237.9 210.7,240.9 212.0,243.0 C213.3,245.1 214.7,247.7 216.0,249.0 C217.3,250.3 218.7,251.0 220.0,251.0 C221.3,251.0 222.5,250.0 224.0,249.2 C225.5,248.4 227.3,246.8 229.0,246.0 C230.7,245.2 231.6,245.0 234.0,244.6 C236.4,244.2 239.9,243.7 243.7,243.6 C247.5,243.5 252.5,243.8 257.0,244.0 C261.5,244.2 266.0,244.5 270.5,244.8 C275.0,245.1 279.1,245.5 284.0,246.0 C288.9,246.5 295.5,247.3 300.0,247.6 C304.5,247.9 307.3,247.9 311.0,248.0 C314.7,248.1 318.3,248.1 322.0,248.0 C325.7,247.9 330.2,247.7 333.0,247.6 C335.8,247.5 337.1,247.7 338.6,247.3 C340.1,246.9 340.7,246.5 341.8,245.4 C342.9,244.3 343.8,242.7 345.0,240.6 C346.2,238.5 347.8,234.6 349.0,232.6 C350.2,230.6 351.1,229.5 352.2,228.6 C353.3,227.7 354.4,227.1 355.6,227.2 C356.8,227.3 358.3,228.5 359.4,229.1 C360.5,229.7 361.0,231.2 362.1,231.0 C363.2,230.8 364.7,228.7 365.8,228.0 C366.9,227.3 367.7,226.9 368.7,227.0 C369.7,227.1 370.6,227.7 371.6,228.8 C372.6,229.9 373.6,231.7 374.8,233.6 C376.0,235.5 377.5,238.6 378.6,240.4 C379.7,242.2 380.7,243.4 381.6,244.2 C382.5,245.0 382.9,245.3 383.8,245.2 C384.7,245.1 385.7,244.7 386.8,243.8 C387.9,242.9 389.3,241.0 390.6,240.0 C391.9,239.0 393.3,238.1 394.5,237.6 C395.7,237.1 397.0,237.1 398.0,236.9 C399.0,236.8 400.1,236.7 400.5,236.7"/>
<path d="M118.4,275.6 C120.3,275.8 126.4,276.3 130.0,276.6 C133.6,276.9 136.7,277.3 140.0,277.6 C143.3,277.9 146.7,278.1 150.0,278.4 C153.3,278.7 157.3,279.1 160.0,279.6 C162.7,280.1 164.3,280.7 166.0,281.6 C167.7,282.5 168.7,283.6 170.0,285.0 C171.3,286.4 172.7,288.4 174.0,290.0 C175.3,291.6 176.7,293.1 178.0,294.4 C179.3,295.7 180.7,297.1 182.0,298.0 C183.3,298.9 184.3,299.3 186.0,299.6 C187.7,299.9 189.7,299.8 192.0,299.9 C194.3,299.9 195.9,299.8 200.0,299.9 C204.1,300.0 209.5,300.2 216.8,300.6 C224.1,301.0 234.8,301.6 243.7,302.0 C252.6,302.4 261.1,303.0 270.5,303.0 C279.9,303.0 293.2,302.5 300.0,302.2 C306.8,301.9 307.7,301.6 311.0,301.2 C314.3,300.8 317.2,300.4 320.0,299.8 C322.8,299.2 325.6,298.6 328.0,297.8 C330.4,297.0 332.9,296.0 334.6,295.0 C336.3,294.0 336.9,293.0 338.0,291.8 C339.1,290.6 339.8,289.9 341.0,287.8 C342.2,285.7 343.7,282.0 345.0,279.4 C346.3,276.8 347.5,273.9 349.0,272.0 C350.5,270.1 352.2,268.8 353.8,267.8 C355.4,266.8 356.9,266.2 358.6,265.9 C360.3,265.6 362.7,265.6 364.2,265.9 C365.7,266.2 366.2,266.6 367.4,267.8 C368.6,269.1 370.1,271.3 371.4,273.4 C372.7,275.5 374.2,278.7 375.4,280.6 C376.6,282.5 377.8,283.9 378.6,284.6 C379.4,285.4 379.5,285.4 380.2,285.1 C380.9,284.8 381.5,284.1 382.6,283.0 C383.7,281.9 385.4,279.4 386.6,278.2 C387.8,277.0 388.6,276.3 389.8,275.8 C391.0,275.3 392.0,275.3 393.8,275.2 C395.6,275.1 399.4,275.2 400.5,275.2"/>
<path d="M79.2,349.4 C80.1,349.4 83.1,349.7 84.8,349.4 C86.5,349.1 88.1,348.6 89.6,347.8 C91.1,347.0 92.4,345.9 93.6,344.6 C94.8,343.3 95.7,341.4 96.8,339.8 C97.9,338.2 98.9,336.4 100.0,335.0 C101.1,333.6 102.0,332.5 103.2,331.5 C104.4,330.5 105.9,329.4 107.2,328.9 C108.5,328.4 110.0,328.2 111.2,328.3 C112.4,328.4 113.2,328.7 114.4,329.4 C115.6,330.1 117.1,331.4 118.4,332.6 C119.7,333.8 121.1,335.4 122.4,336.6 C123.7,337.8 124.9,338.9 126.4,339.8 C127.9,340.7 129.3,341.3 131.2,341.9 C133.1,342.5 135.2,342.9 137.6,343.2 C140.0,343.5 143.2,343.7 145.6,343.9 C148.0,344.1 147.9,344.2 152.0,344.3 C156.1,344.4 163.7,344.6 170.0,344.5 C176.3,344.4 182.7,344.2 190.0,343.9 C197.3,343.6 206.0,343.0 214.0,342.7 C222.0,342.4 230.0,342.1 238.0,341.9 C246.0,341.7 254.0,341.9 262.0,341.7 C270.0,341.5 280.0,341.0 286.0,340.6 C292.0,340.2 294.8,339.8 298.0,339.4 C301.2,339.0 303.0,338.7 305.0,338.3 C307.0,337.9 308.3,337.5 310.0,337.1 C311.7,336.7 312.8,336.6 315.0,335.7 C317.2,334.8 320.7,333.6 323.0,332.0 C325.3,330.4 327.0,328.3 329.0,326.0 C331.0,323.7 333.2,320.8 335.0,318.0 C336.8,315.2 338.5,312.0 340.0,309.0 C341.5,306.0 342.8,302.5 344.0,300.0 C345.2,297.5 346.1,295.3 347.0,294.2 C347.9,293.1 348.4,293.0 349.2,293.1 C350.0,293.2 351.0,294.3 351.7,295.0 C352.4,295.7 352.3,295.8 353.2,297.2 C354.1,298.6 355.7,301.3 357.0,303.6 C358.3,305.9 359.7,308.7 361.0,310.8 C362.3,312.9 363.7,314.0 365.0,316.0 C366.3,318.0 367.5,320.3 369.0,323.0 C370.5,325.7 372.5,329.4 374.0,332.0 C375.5,334.6 376.9,337.2 377.8,338.4 C378.7,339.6 378.8,339.7 379.4,339.4 C380.0,339.1 380.7,337.7 381.6,336.6 C382.5,335.5 383.7,333.6 384.8,332.8 C385.9,332.0 386.6,331.6 388.0,331.9 C389.4,332.2 391.5,333.9 393.0,334.8 C394.5,335.7 395.8,336.6 397.0,337.2 C398.2,337.8 399.9,338.1 400.5,338.3"/>
</g>
</g>
<path d="M196.8,73.2 L200.2,68.2" stroke="#000" stroke-width="1.8" fill="none"/><path d="M204.4,62.0 L202.4,69.7 L198.0,66.7 Z" fill="#000"/>
<path d="M216.5,64.8 L216.0,59.2" stroke="#000" stroke-width="1.8" fill="none"/><path d="M215.3,51.2 L218.7,58.9 L213.3,59.4 Z" fill="#000"/>
<path d="M198.5,246.7 L200.9,241.6" stroke="#000" stroke-width="1.6" fill="none"/><path d="M204.2,234.3 L202.9,242.5 L198.8,240.6 Z" fill="#000"/>
<path d="M220.0,232.5 L220.0,239.5" stroke="#000" stroke-width="1.6" fill="none"/><path d="M220.0,249.0 L217.3,239.5 L222.7,239.5 Z" fill="#000"/>
<g stroke="#000" stroke-width="2.5" fill="none" stroke-linecap="butt">
<path d="M70.7,392.75 V4.85 M70.7,6.0 H442.1 M442.1,4.85 V392.75 M70.7,391.6 H442.1 M70.7,199.2 H442.1"/>
</g>
<path d="M70.7,6.00 h5.4 M442.1,6.00 h-5.4 M70.7,24.38 h3.4 M442.1,24.38 h-3.4 M70.7,42.76 h5.4 M442.1,42.76 h-5.4 M70.7,61.14 h3.4 M442.1,61.14 h-3.4 M70.7,79.52 h5.4 M442.1,79.52 h-5.4 M70.7,97.90 h3.4 M442.1,97.90 h-3.4 M70.7,116.28 h5.4 M442.1,116.28 h-5.4 M70.7,134.66 h3.4 M442.1,134.66 h-3.4 M70.7,153.04 h5.4 M442.1,153.04 h-5.4 M70.7,171.42 h3.4 M442.1,171.42 h-3.4 M70.7,189.80 h5.4 M442.1,189.80 h-5.4 M70.7,226.50 h5.4 M442.1,226.50 h-5.4 M70.7,254.02 h3.4 M442.1,254.02 h-3.4 M70.7,281.53 h5.4 M442.1,281.53 h-5.4 M70.7,309.05 h3.4 M442.1,309.05 h-3.4 M70.7,336.57 h5.4 M442.1,336.57 h-5.4 M70.7,364.08 h3.4 M442.1,364.08 h-3.4 M70.7,391.60 h5.4 M442.1,391.60 h-5.4 M70.78,199.2 v-3.2 M70.78,391.6 v-3.2 M112.00,199.2 v-5.0 M112.00,391.6 v-5.0 M153.22,199.2 v-3.2 M153.22,391.6 v-3.2 M194.44,199.2 v-5.0 M194.44,391.6 v-5.0 M235.66,199.2 v-3.2 M235.66,391.6 v-3.2 M276.88,199.2 v-5.0 M276.88,391.6 v-5.0 M318.10,199.2 v-3.2 M318.10,391.6 v-3.2 M359.32,199.2 v-5.0 M359.32,391.6 v-5.0 M400.54,199.2 v-3.2 M400.54,391.6 v-3.2 M441.76,199.2 v-5.0 M441.76,391.6 v-5.0" stroke="#000" stroke-width="1.9" fill="none"/>
<g font-family="Liberation Sans, Arial, sans-serif" font-weight="bold" font-size="13px" fill="#000" stroke="#000" stroke-width="0.3" stroke-linejoin="round">
<text x="65.5" y="9.4" text-anchor="end">6.72</text>
<text x="65.5" y="46.2" text-anchor="end">4.48</text>
<text x="65.5" y="82.9" text-anchor="end">2.24</text>
<text x="65.5" y="119.7" text-anchor="end">0.00</text>
<text x="65.5" y="156.4" text-anchor="end">-2.24</text>
<text x="65.5" y="193.2" text-anchor="end">-4.48</text>
<text x="65.5" y="229.9" text-anchor="end">0.495</text>
<text x="65.5" y="284.9" text-anchor="end">0.000</text>
<text x="65.5" y="340.0" text-anchor="end">-0.495</text>
<text x="65.5" y="395.0" text-anchor="end">-0.990</text>
<text x="447.2" y="9.4">8.4</text>
<text x="447.2" y="46.2">5.6</text>
<text x="447.2" y="82.9">2.8</text>
<text x="447.2" y="119.7">0.0</text>
<text x="447.2" y="156.4">-2.8</text>
<text x="447.2" y="193.2">-5.6</text>
<text x="447.2" y="229.9">3.3</text>
<text x="447.2" y="284.9">0.0</text>
<text x="447.2" y="340.0">-3.3</text>
<text x="447.2" y="395.0">-6.6</text>
<text x="112.0" y="407.2" text-anchor="middle">1.2</text>
<text x="194.7" y="407.2" text-anchor="middle">1.3</text>
<text x="277.4" y="407.2" text-anchor="middle">1.4</text>
<text x="360.1" y="407.2" text-anchor="middle">1.5</text>
<text x="442.8" y="407.2" text-anchor="middle">1.6</text>
<text x="82.6" y="23.5" font-size="13.8px">(a)</text>
<text x="83.7" y="223.7" font-size="13.8px">(b)</text>
</g>
<g font-family="Liberation Sans, Arial, sans-serif" fill="#000" stroke="#000" stroke-width="0.35" stroke-linejoin="round">
<text x="209.6" y="441.8" font-size="21.3px">Energy(eV)</text>
<text x="80" y="56" font-size="18.7px">x=0.88%</text>
<text x="79" y="95.3" font-size="18.7px">x=1.2%</text>
<text x="108.8" y="170.1" font-size="18.7px">x=1.8%</text>
<text x="265.5" y="229" font-size="18.7px">x=0.88%</text>
<text x="279.7" y="285.9" font-size="18.7px">x=1.2%</text>
<text x="110.1" y="365.5" font-size="18.7px">x=1.8%</text>
<text x="357.6" y="26" font-size="16.2px">thin line</text>
<text x="378.5" y="219.2" font-size="16.2px">thin line</text>
<text transform="translate(18,141) rotate(-90)" font-size="17px">Re(Δ<tspan font-style="italic">r</tspan>/<tspan font-style="italic">r</tspan>)(10<tspan font-size="10.5px" dy="-6.5">-3</tspan><tspan dy="6.5">)</tspan></text>
<text transform="translate(496.8,147.3) rotate(-90)" font-size="17.3px">Δ<tspan font-style="italic">R</tspan>/<tspan font-style="italic">R</tspan>(10<tspan font-size="10.5px" dy="-6.5">-2</tspan><tspan dy="6.5">)</tspan></text>
<text transform="translate(14,306.3) rotate(-90) scale(0.87,1)" font-size="17px">Δ</text>
<text transform="translate(14,295) rotate(-90)" font-size="17px"><tspan font-style="italic">ε</tspan><tspan dy="-1.5">"</tspan></text>
<text transform="translate(499.8,300.8) rotate(-90)" font-size="17px"><tspan font-style="italic">ε</tspan><tspan dy="-2.5">"</tspan></text>
</g>
<g stroke="#000" stroke-width="0.9" fill="#000">
<path d="M417,20.2 L429,21.5" fill="none"/><path d="M432.5,21.9 L427.3,19.6 L427,23.2 Z" stroke="none"/>
<path d="M412.6,226.5 H425" fill="none"/><path d="M428.5,226.5 L423.3,224.6 L423.3,228.4 Z" stroke="none"/>
</g></svg></body></html>
